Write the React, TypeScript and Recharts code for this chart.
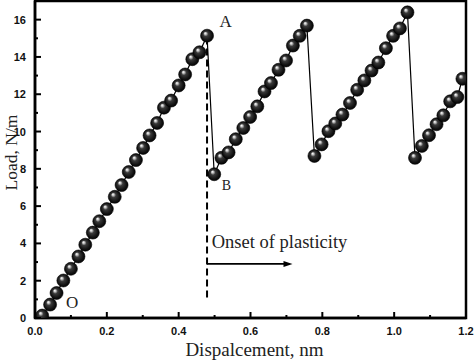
import { ScatterChart, Scatter, XAxis, YAxis, ReferenceLine, ReferenceArea, ReferenceDot } from "recharts"

const displacement = [
  0.02, 0.042, 0.06, 0.079, 0.1, 0.121, 0.14, 0.161, 0.179, 0.2, 0.222, 0.241,
  0.261, 0.281, 0.301, 0.319, 0.34, 0.359, 0.379, 0.4, 0.418, 0.438, 0.458, 0.479,
  0.499, 0.519, 0.539, 0.559, 0.58, 0.599, 0.619, 0.639, 0.657, 0.678, 0.699, 0.718, 0.737, 0.757,
  0.778, 0.798, 0.817, 0.836, 0.856, 0.877, 0.897, 0.917, 0.937, 0.956, 0.977, 0.997, 1.016, 1.037,
  1.058, 1.077, 1.097, 1.118, 1.137, 1.156, 1.176, 1.19,
]

const load = [
  0.13, 0.72, 1.34, 2.01, 2.64, 3.3, 3.93, 4.58, 5.19, 5.84, 6.5, 7.13,
  7.83, 8.47, 9.12, 9.79, 10.46, 11.28, 11.66, 12.47, 13.06, 13.88, 14.25, 15.14,
  7.71, 8.59, 8.88, 9.59, 10.19, 10.78, 11.35, 12.15, 12.6, 13.31, 13.81, 14.61, 15.13, 15.68,
  8.69, 9.31, 10.02, 10.43, 10.91, 11.53, 12.24, 12.74, 13.27, 13.7, 14.47, 15.13, 15.53, 16.39,
  8.59, 9.23, 9.8, 10.39, 10.87, 11.62, 11.85, 12.83,
]

const majorX = [0, 0.2, 0.4, 0.6, 0.8, 1.0, 1.2]
const minorX = [0.1, 0.3, 0.5, 0.7, 0.9, 1.1]
const majorY = [0, 2, 4, 6, 8, 10, 12, 14, 16]
const minorY = [1, 3, 5, 7, 9, 11, 13, 15]

const onsetX = 0.479
const dashedFrom = 1.1
const dashedTo = 14.8
const arrowY = 2.9
const arrowEnd = 0.717

const annotations = [
  { x: 0.514, y: 15.62, text: "A", size: 17 },
  { x: 0.52, y: 6.86, text: "B", size: 14 },
  { x: 0.086, y: 0.53, text: "O", size: 17 },
  { x: 0.492, y: 3.77, text: "Onset of plasticity", size: 18.5 },
]

const data = displacement.map((x, i) => ({ x, y: load[i] }))

const serif = "'Liberation Serif', 'Times New Roman', serif"
const sans = "'Liberation Sans', Arial, sans-serif"

function Ball(props: any) {
  const { cx, cy } = props
  return (
    <g>
      <defs>
        <radialGradient id="ball" cx="50%" cy="50%" r="55%" fx="35%" fy="30%">
          <stop offset="0%" stopColor="#ffffff" />
          <stop offset="14%" stopColor="#c8c8c8" />
          <stop offset="35%" stopColor="#3a3a3a" />
          <stop offset="75%" stopColor="#111" />
          <stop offset="100%" stopColor="#000" />
        </radialGradient>
      </defs>
      <circle cx={cx} cy={cy} r={6.5} fill="url(#ball)" stroke="#000" strokeWidth={0.6} />
    </g>
  )
}

function XTick(props: any) {
  const { x, y, payload } = props
  const major = majorX.some((v) => Math.abs(v - payload.value) < 1e-6)
  return (
    <g>
      <line x1={x} y1={y} x2={x} y2={y - (major ? 6 : 3)} stroke="#000" strokeWidth={2} />
      {major && (
        <text x={x} y={y + 17} textAnchor="middle" fontFamily={sans} fontWeight="bold" fontSize={11} fill="#111">
          {payload.value.toFixed(1)}
        </text>
      )}
    </g>
  )
}

function YTick(props: any) {
  const { x, y, payload } = props
  const major = majorY.includes(payload.value)
  return (
    <g>
      <line x1={x} y1={y} x2={x + (major ? 6 : 3)} y2={y} stroke="#000" strokeWidth={2} />
      {major && (
        <text x={x - 9} y={y + 4} textAnchor="end" fontFamily={sans} fontWeight="bold" fontSize={11} fill="#111">
          {payload.value}
        </text>
      )}
    </g>
  )
}

function YTitle(props: any) {
  const { viewBox } = props
  const cx = viewBox.x + 11
  const cy = viewBox.y + viewBox.height / 2 - 7
  return (
    <text
      x={cx}
      y={cy}
      transform={`rotate(-90 ${cx} ${cy})`}
      textAnchor="middle"
      dominantBaseline="central"
      fontFamily={serif}
      fontSize={17.5}
      fill="#222"
    >
      Load, N/m
    </text>
  )
}

function Arrow(props: any) {
  const { x1, y1, x2, y2 } = props
  return (
    <g>
      <line x1={x1} y1={y1} x2={x2 - 6} y2={y2} stroke="#000" strokeWidth={1.6} />
      <polygon points={`${x2},${y2} ${x2 - 9},${y2 - 3} ${x2 - 9},${y2 + 3}`} fill="#000" />
    </g>
  )
}

export default function App() {
  return (
    <div style={{ position: "absolute", left: 0, top: 0, width: 474, height: 362, background: "#fff" }}>
      <ScatterChart width={474} height={362} margin={{ top: 1, right: 8, left: 0, bottom: 0 }}>
        <XAxis
          type="number"
          dataKey="x"
          domain={[0, 1.2]}
          allowDataOverflow
          ticks={[...majorX, ...minorX].sort((a, b) => a - b)}
          interval={0}
          height={44}
          tickSize={0}
          tickMargin={0}
          tickLine={false}
          tick={<XTick />}
          axisLine={{ stroke: "#000", strokeWidth: 2.5 }}
          label={{
            value: "Dispalcement, nm",
            position: "insideBottom",
            offset: 6,
            dx: 4,
            style: { fontFamily: serif, fontSize: 19, fill: "#222" },
          }}
        />
        <YAxis
          type="number"
          dataKey="y"
          domain={[0, 17]}
          allowDataOverflow
          ticks={[...majorY, ...minorY].sort((a, b) => a - b)}
          interval={0}
          width={35}
          tickSize={0}
          tickMargin={0}
          tickLine={false}
          tick={<YTick />}
          axisLine={{ stroke: "#000", strokeWidth: 2.5 }}
          label={<YTitle />}
        />
        <ReferenceArea x1={0} x2={1.2} y1={0} y2={17} fill="none" stroke="#000" strokeWidth={2.5} ifOverflow="visible" />
        <ReferenceLine
          segment={[{ x: onsetX, y: dashedFrom }, { x: onsetX, y: dashedTo }]}
          stroke="#000"
          strokeWidth={2}
          strokeDasharray="7 4"
        />
        <ReferenceLine
          segment={[{ x: onsetX, y: arrowY }, { x: arrowEnd, y: arrowY }]}
          shape={<Arrow />}
        />
        <Scatter
          data={data}
          line={{ stroke: "#000", strokeWidth: 1.2 }}
          lineType="joint"
          shape={<Ball />}
          isAnimationActive={false}
        />
        {annotations.map((a) => (
          <ReferenceDot
            key={a.text}
            x={a.x}
            y={a.y}
            r={0}
            ifOverflow="visible"
            shape={(p: any) => (
              <text x={p.cx} y={p.cy} fontFamily={serif} fontSize={a.size} fill="#222">
                {a.text}
              </text>
            )}
          />
        ))}
      </ScatterChart>
    </div>
  )
}
